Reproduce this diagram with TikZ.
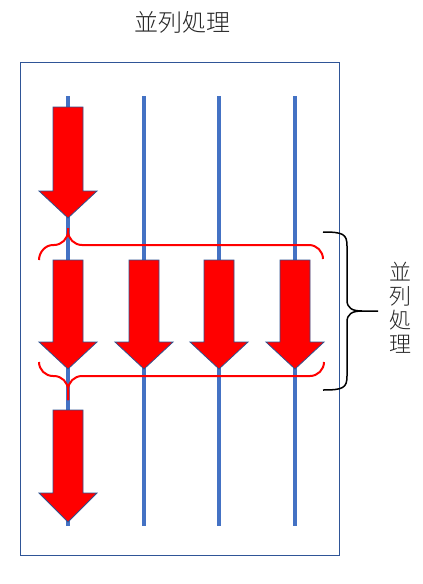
\documentclass[tikz,border=0pt]{standalone}
\usepackage{fontspec}
\newfontfamily\jpfont{Noto Sans CJK JP Light}
\definecolor{lineblue}{HTML}{4472C4}
\definecolor{frameblue}{HTML}{2F5597}
\definecolor{edgeblue}{HTML}{2F528F}
\definecolor{textgray}{HTML}{262626}
\newcommand\myDownArrow[4]{%
  \filldraw[redarrow] (#1-15,#2) -- (#1+15,#2) -- (#1+15,#3) -- (#1+29,#3) -- (#1,#4) -- (#1-29,#3) -- (#1-15,#3) -- cycle;}
\tikzset{
  lane/.style={draw=lineblue, line width=4pt},
  redarrow/.style={fill=red, draw=edgeblue, line width=0.8pt, line join=miter},
  redbrace/.style={draw=red, line width=2pt},
  blackbrace/.style={draw=black, line width=1.5pt},
  frame/.style={draw=frameblue, line width=1pt},
  label/.style={font=\jpfont, text=textgray, inner sep=0pt}
}
\begin{document}
\begin{tikzpicture}[x=1pt,y=-1pt]
\useasboundingbox (0,0) rectangle (423,584);
\fill[white] (0,0) rectangle (423,584);
% frame
\draw[frame] (20,62) rectangle (339,555);
% title
\node[label, font=\jpfont\fontsize{24}{26}\selectfont] (title) at (182,22) {並列処理};
% lanes
\foreach \x/\n in {68/a,144/b,219/c,295/d}{
  \coordinate (top\n) at (\x,96);
  \coordinate (bot\n) at (\x,526);
  \draw[lane] (top\n) -- (bot\n);
}
% arrows
\myDownArrow{68}{107}{191}{218}
\foreach \x in {68,144,219,295}{\myDownArrow{\x}{260}{342}{369}}
\myDownArrow{68}{410}{493}{522}
% upper red brace
\draw[redbrace] (39,260) .. controls (39,252.3) and (45.3,245) .. (53,245) -- (54,245)
  .. controls (61.7,245) and (68,238.7) .. (68,231) -- (68,228);
\draw[redbrace] (68,228) -- (68,231) .. controls (68,238.7) and (74.3,245) .. (82,245) -- (309,245)
  .. controls (316.7,245) and (323,251.3) .. (323,259);
% lower red brace
\draw[redbrace] (39,362) .. controls (39,369.7) and (45.3,376) .. (53,376) -- (54,376)
  .. controls (61.7,376) and (68,382.3) .. (68,390) -- (68,400);
\draw[redbrace] (68,400) -- (68,390) .. controls (68,382.3) and (74.3,376) .. (82,376) -- (310,376)
  .. controls (317.7,376) and (324,369.7) .. (324,362);
% black brace
\draw[blackbrace] (323,232) .. controls (343,232) and (347,234) .. (347,246) -- (347,300)
  .. controls (347,308) and (352,311) .. (362,311) -- (378,311);
\draw[blackbrace] (323,390) .. controls (343,390) and (347,388) .. (347,376) -- (347,322)
  .. controls (347,314) and (352,311) .. (362,311);
% vertical label
\node[label, font=\jpfont\fontsize{22}{24}\selectfont, align=center] (side) at (400,308) {並\\列\\処\\理};
\end{tikzpicture}
\end{document}
